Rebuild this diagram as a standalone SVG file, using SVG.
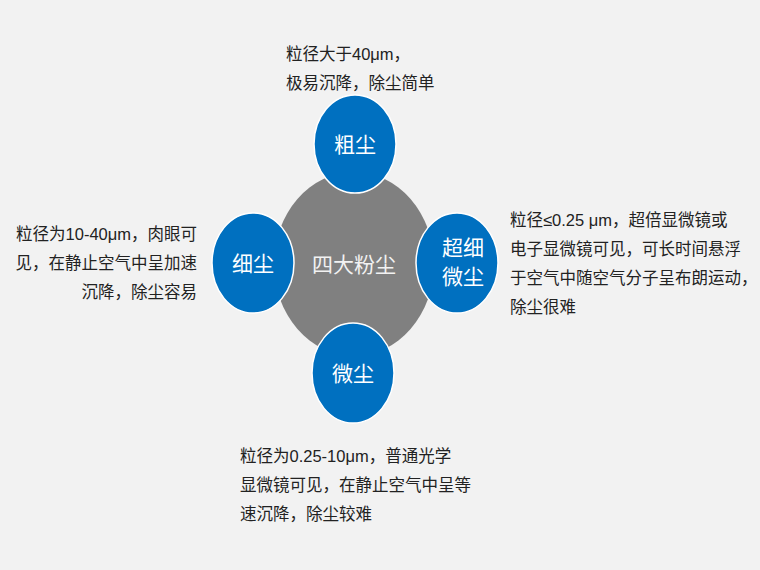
<svg xmlns="http://www.w3.org/2000/svg" width="760" height="570" viewBox="0 0 760 570">
<style>
.b{fill:#0070c0;stroke:#fff;stroke-width:1.5}
.w{fill:#fff;font-family:"Liberation Sans","Noto Sans CJK SC",sans-serif;font-size:21px;text-anchor:middle}
.t{fill:#222;font-family:"Liberation Sans","Noto Sans CJK SC",sans-serif;font-size:16.5px}
</style>
<rect width="760" height="570" fill="#f2f2f2"/>
<g id="connectors"/>
<g id="center"><ellipse cx="354" cy="264" rx="80" ry="92" fill="#808080"/><text class="w" x="354" y="272" style="fill:#f2f2f2">四大粉尘</text></g>
<g id="n-coarse"><ellipse class="b" cx="355" cy="144" rx="41" ry="49"/><text class="w" x="355" y="152">粗尘</text></g>
<g id="n-fine"><ellipse class="b" cx="253" cy="263" rx="41" ry="50"/><text class="w" x="253" y="271">细尘</text></g>
<g id="n-ultra"><ellipse class="b" cx="457" cy="263" rx="41" ry="50"/><text class="w" x="463" y="255">超细</text><text class="w" x="463" y="284">微尘</text></g>
<g id="n-micro"><ellipse class="b" cx="353" cy="373" rx="41" ry="50"/><text class="w" x="353" y="381">微尘</text></g>
<g id="labels">
<text class="t" x="286" y="60">粒径大于40μm，</text>
<text class="t" x="286" y="89">极易沉降，除尘简单</text>
<text class="t" x="197" y="240" text-anchor="end">粒径为10-40μm，肉眼可</text>
<text class="t" x="197" y="269" text-anchor="end">见，在静止空气中呈加速</text>
<text class="t" x="197" y="298" text-anchor="end">沉降，除尘容易</text>
<text class="t" x="510" y="226">粒径≤0.25 μm，超倍显微镜或</text>
<text class="t" x="510" y="255">电子显微镜可见，可长时间悬浮</text>
<text class="t" x="510" y="284">于空气中随空气分子呈布朗运动，</text>
<text class="t" x="510" y="313">除尘很难</text>
<text class="t" x="240" y="462">粒径为0.25-10μm，普通光学</text>
<text class="t" x="240" y="491">显微镜可见，在静止空气中呈等</text>
<text class="t" x="240" y="520">速沉降，除尘较难</text>
</g>
</svg>
